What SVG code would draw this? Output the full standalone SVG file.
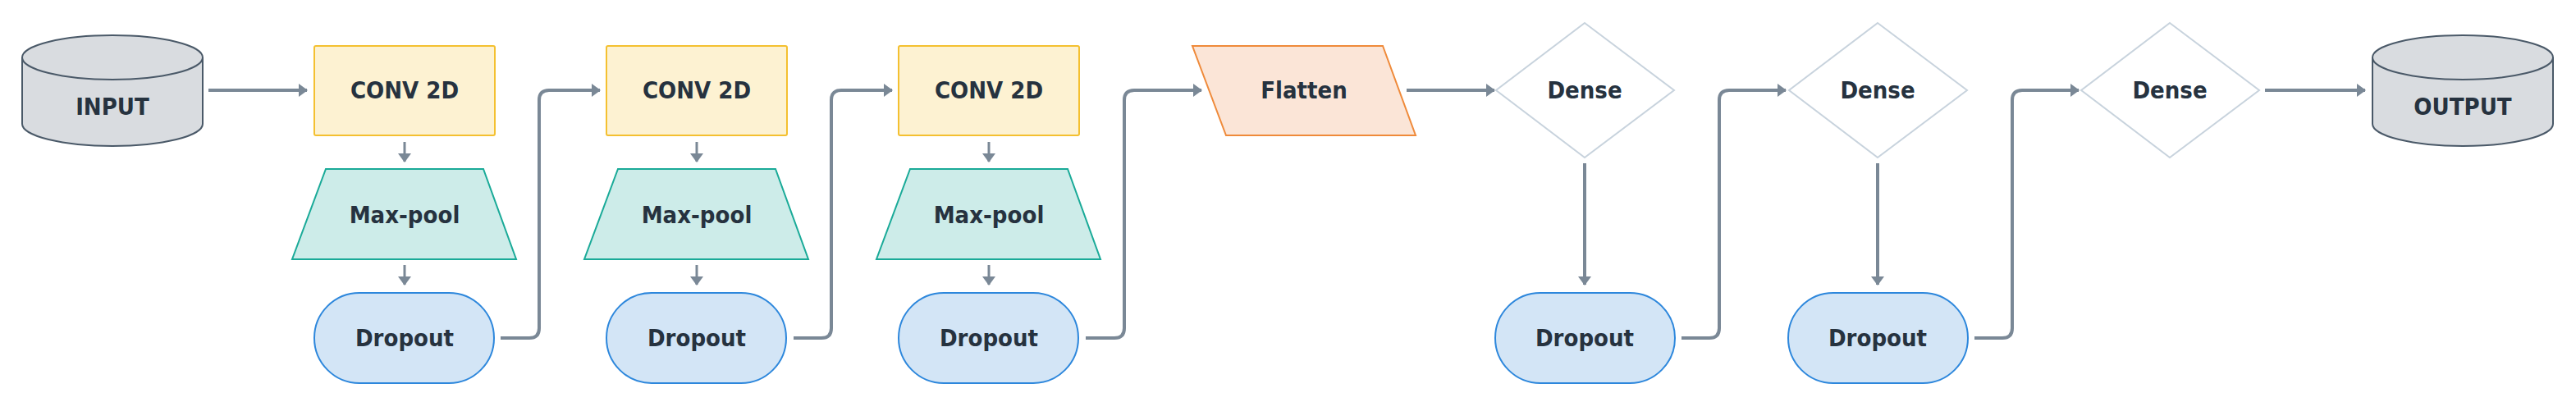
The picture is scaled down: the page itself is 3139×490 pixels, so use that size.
<svg xmlns="http://www.w3.org/2000/svg" width="3139" height="490" viewBox="0 0 3139 490">
<style>
text{font-family:"DejaVu Sans Condensed","DejaVu Sans",sans-serif;font-weight:bold;font-size:29px;fill:#26323f;text-anchor:middle;dominant-baseline:central}
.cyl{fill:#d9dce0;stroke:#4a5968;stroke-width:2}
.conv{fill:#fdf2d2;stroke:#f4c030;stroke-width:2}
.pool{fill:#cdece9;stroke:#1aaa98;stroke-width:2}
.drop{fill:#d3e5f6;stroke:#2d87dc;stroke-width:2}
.flat{fill:#fbe5d7;stroke:#ef8a3a;stroke-width:2}
.dense{fill:#fff;stroke:#c8d3dd;stroke-width:2}
.c{fill:none;stroke:#7a8896;stroke-width:4;marker-end:url(#ah)}
.s{fill:none;stroke:#7a8896;stroke-width:3;marker-end:url(#ah)}
</style>
<defs>
<marker id="ah" markerUnits="userSpaceOnUse" markerWidth="12" markerHeight="16" refX="10" refY="8" orient="auto"><path d="M0,0 L11,8 L0,16 Z" fill="#7a8896"/></marker>
</defs>
<g id="connectors">
<path class="c" d="M254,110 H374"/>
<path class="s" d="M493,173 V197"/>
<path class="s" d="M493,323 V347"/>
<path class="s" d="M849,173 V197"/>
<path class="s" d="M849,323 V347"/>
<path class="s" d="M1205,173 V197"/>
<path class="s" d="M1205,323 V347"/>
<path class="c" d="M610,412 H645 Q657,412 657,400 V122 Q657,110 669,110 H731"/>
<path class="c" d="M967,412 H1001 Q1013,412 1013,400 V122 Q1013,110 1025,110 H1087"/>
<path class="c" d="M1323,412 H1358 Q1370,412 1370,400 V122 Q1370,110 1382,110 H1464"/>
<path class="c" d="M1714,110 H1821"/>
<path class="c" d="M1931,199 V347"/>
<path class="c" d="M2049,412 H2083 Q2095,412 2095,400 V122 Q2095,110 2107,110 H2176"/>
<path class="c" d="M2288,199 V347"/>
<path class="c" d="M2406,412 H2440 Q2452,412 2452,400 V122 Q2452,110 2464,110 H2533"/>
<path class="c" d="M2760,110 H2882"/>
</g>
<g id="input"><path class="cyl" d="M27,70 A110,27 0 0 1 247,70 V151 A110,27 0 0 1 27,151 Z"/><path class="cyl" d="M27,70 A110,27 0 0 0 247,70"/><text x="137" y="130">INPUT</text></g>
<g id="conv1"><rect class="conv" x="383" y="56" width="220" height="109" rx="2"/><text x="493" y="110">CONV 2D</text></g>
<g id="pool1"><path class="pool" d="M397,206 H589 L629,316 H356 Z"/><text x="493" y="262">Max-pool</text></g>
<g id="drop1"><rect class="drop" x="383" y="357" width="219" height="110" rx="55"/><text x="493" y="412">Dropout</text></g>
<g id="conv2"><rect class="conv" x="739" y="56" width="220" height="109" rx="2"/><text x="849" y="110">CONV 2D</text></g>
<g id="pool2"><path class="pool" d="M753,206 H945 L985,316 H712 Z"/><text x="849" y="262">Max-pool</text></g>
<g id="drop2"><rect class="drop" x="739" y="357" width="219" height="110" rx="55"/><text x="849" y="412">Dropout</text></g>
<g id="conv3"><rect class="conv" x="1095" y="56" width="220" height="109" rx="2"/><text x="1205" y="110">CONV 2D</text></g>
<g id="pool3"><path class="pool" d="M1109,206 H1301 L1341,316 H1068 Z"/><text x="1205" y="262">Max-pool</text></g>
<g id="drop3"><rect class="drop" x="1095" y="357" width="219" height="110" rx="55"/><text x="1205" y="412">Dropout</text></g>
<g id="flatten"><path class="flat" d="M1453,56 H1685 L1725,165 H1494 Z"/><text x="1589" y="110">Flatten</text></g>
<g id="dense1"><path class="dense" d="M1931,28 L2040,110 L1931,192 L1823,110 Z"/><text x="1931" y="110">Dense</text></g>
<g id="drop4"><rect class="drop" x="1822" y="357" width="219" height="110" rx="55"/><text x="1931" y="412">Dropout</text></g>
<g id="dense2"><path class="dense" d="M2288,28 L2397,110 L2288,192 L2180,110 Z"/><text x="2288" y="110">Dense</text></g>
<g id="drop5"><rect class="drop" x="2179" y="357" width="219" height="110" rx="55"/><text x="2288" y="412">Dropout</text></g>
<g id="dense3"><path class="dense" d="M2644,28 L2753,110 L2644,192 L2536,110 Z"/><text x="2644" y="110">Dense</text></g>
<g id="output"><path class="cyl" d="M2891,70 A110,27 0 0 1 3111,70 V151 A110,27 0 0 1 2891,151 Z"/><path class="cyl" d="M2891,70 A110,27 0 0 0 3111,70"/><text x="3001" y="130">OUTPUT</text></g>
</svg>
